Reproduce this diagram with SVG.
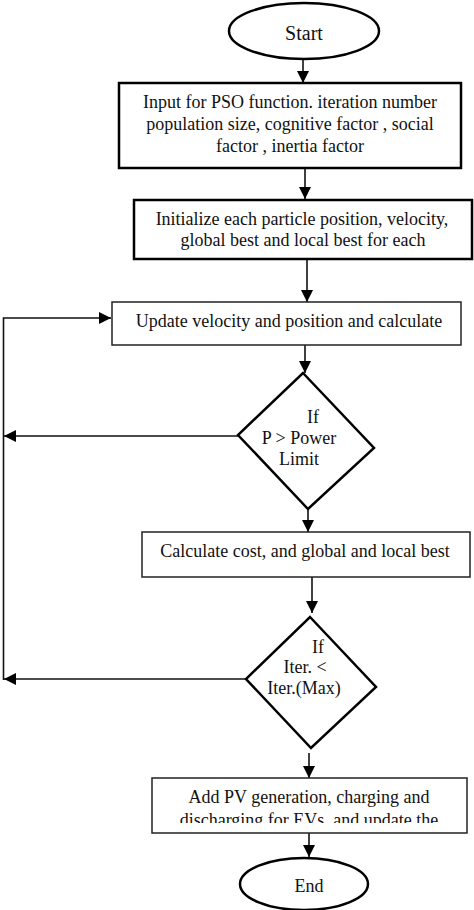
<svg xmlns="http://www.w3.org/2000/svg" width="474" height="910" viewBox="0 0 474 910">
<style>
.thick{fill:#fff;stroke:#000;stroke-width:2.5}
.thin{fill:#fff;stroke:#222;stroke-width:1.5}
.t{font-family:"Liberation Serif","Times New Roman",serif;font-size:18px;fill:#111;text-anchor:middle}
.c{fill:none;stroke:#111;stroke-width:1.6}
</style>
<defs>
<marker id="ah" markerUnits="userSpaceOnUse" markerWidth="12" markerHeight="12" refX="12" refY="6" orient="auto">
<path d="M0,0 L12,6 L0,12 z" fill="#000"/>
</marker>
<clipPath id="clipAdd"><rect x="152" y="778" width="315" height="45"/></clipPath>
</defs>
<g id="connectors">
<line class="c" x1="303" y1="59" x2="303" y2="83" marker-end="url(#ah)"/>
<line class="c" x1="305" y1="168" x2="305" y2="199" marker-end="url(#ah)"/>
<line class="c" x1="307" y1="259" x2="307" y2="302" marker-end="url(#ah)"/>
<line class="c" x1="305" y1="345" x2="305" y2="373" marker-end="url(#ah)"/>
<line class="c" x1="238" y1="436" x2="4" y2="436" marker-end="url(#ah)"/>
<line class="c" x1="308" y1="509" x2="308" y2="532" marker-end="url(#ah)"/>
<line class="c" x1="312" y1="577" x2="312" y2="613" marker-end="url(#ah)"/>
<line class="c" x1="246" y1="679" x2="4" y2="679" marker-end="url(#ah)"/>
<line class="c" x1="309" y1="753" x2="309" y2="778" marker-end="url(#ah)"/>
<line class="c" x1="309" y1="833" x2="309" y2="857" marker-end="url(#ah)"/>
<polyline class="c" points="3.5,680 3.5,318 111,318" marker-end="url(#ah)"/>
</g>
<g id="start">
<ellipse class="thick" cx="304" cy="31" rx="75" ry="28"/>
<text class="t" x="304" y="40" style="font-size:20px">Start</text>
</g>
<g id="input">
<rect class="thick" x="119" y="83" width="342" height="85"/>
<text class="t" x="290" y="108">Input for PSO function. iteration number</text>
<text class="t" x="290" y="130">population size, cognitive factor , social</text>
<text class="t" x="290" y="152">factor , inertia factor</text>
</g>
<g id="init">
<rect class="thick" x="134" y="200" width="338" height="59"/>
<text class="t" x="302" y="225">Initialize each particle position, velocity,</text>
<text class="t" x="303" y="246">global best and local best for each</text>
</g>
<g id="update">
<rect class="thin" x="112" y="302" width="349" height="43"/>
<text class="t" x="289" y="327">Update velocity and position and calculate</text>
</g>
<g id="decision1">
<polygon class="thick" points="303,373 374,448 308,509 238,435"/>
<text class="t" x="313" y="423">If</text>
<text class="t" x="299" y="444">P &gt; Power</text>
<text class="t" x="299" y="465">Limit</text>
</g>
<g id="calc">
<rect class="thin" x="142" y="532" width="328" height="45"/>
<text class="t" x="305" y="557">Calculate cost, and global and local best</text>
</g>
<g id="decision2">
<polygon class="thick" points="310,617 376,687 311,748 246,679"/>
<text class="t" x="318" y="653">If</text>
<text class="t" x="305" y="673">Iter. &lt;</text>
<text class="t" x="304" y="694">Iter.(Max)</text>
</g>
<g id="add">
<rect class="thin" x="152" y="778" width="315" height="55"/>
<text class="t" x="309" y="803">Add PV generation, charging and</text>
<text class="t" x="309" y="826" clip-path="url(#clipAdd)">discharging for EVs. and update the</text>
</g>
<g id="end">
<ellipse class="thick" cx="304" cy="884" rx="64" ry="26"/>
<text class="t" x="309" y="892">End</text>
</g>
</svg>
